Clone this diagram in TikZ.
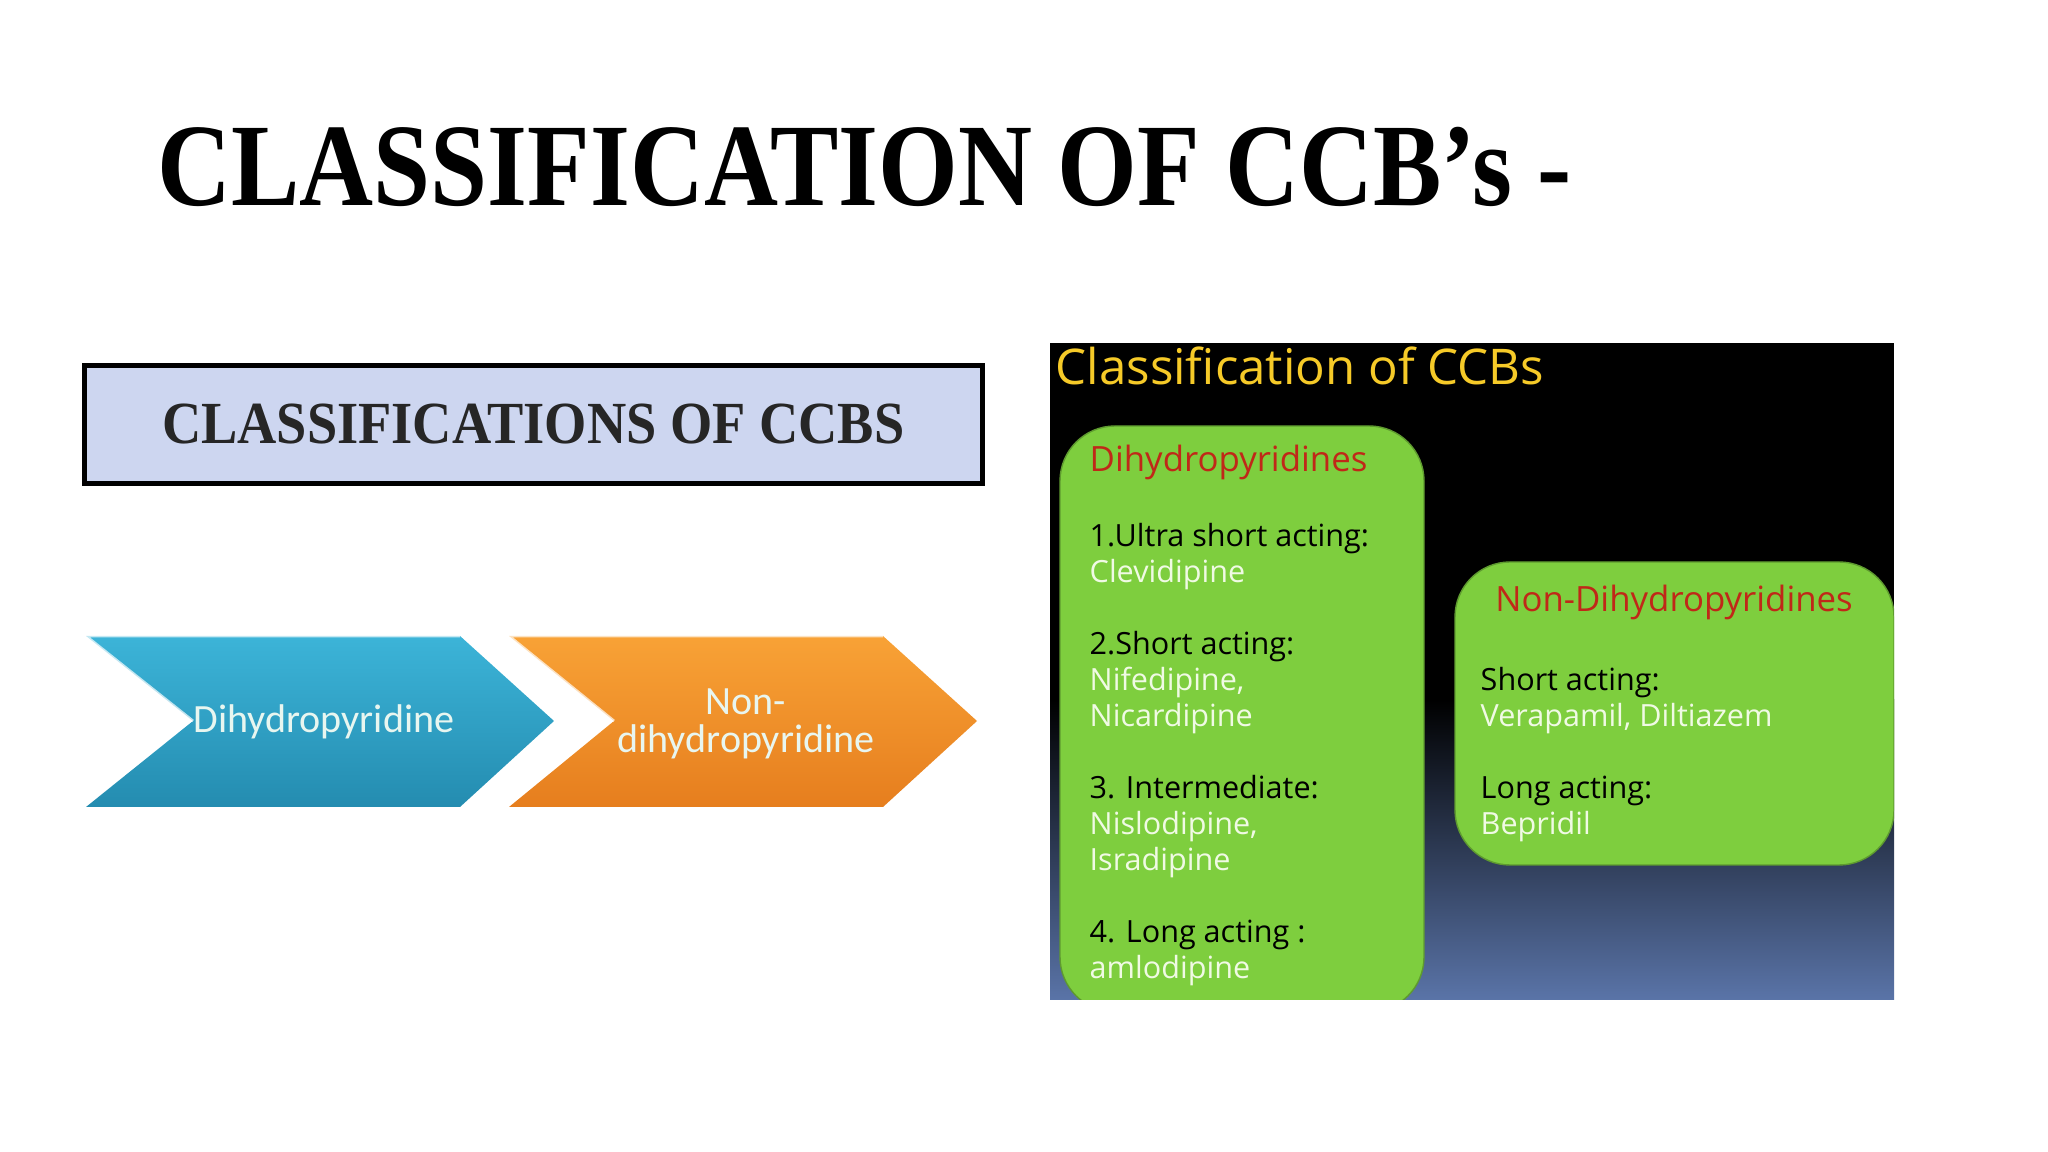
\documentclass[tikz,border=0pt]{standalone}
\usepackage{fontspec}
\setmainfont{Liberation Serif}
\newfontfamily\titlefont[FakeStretch=0.87]{Liberation Serif}
\newfontfamily\bannerfont[FakeStretch=0.91]{Liberation Serif}
\newfontfamily\calibfont{Carlito}
\newfontfamily\comicfont{Open Sans}
\usetikzlibrary{positioning}
\definecolor{lavbox}{RGB}{205,214,240}
\definecolor{chevblueA}{RGB}{60,180,216}
\definecolor{chevblueB}{RGB}{36,140,176}
\definecolor{chevorangeA}{RGB}{248,162,54}
\definecolor{chevorangeB}{RGB}{230,126,30}
\definecolor{chevtext}{RGB}{232,246,240}
\definecolor{leafgreen}{RGB}{126,206,62}
\definecolor{headred}{RGB}{192,40,24}
\definecolor{drugwhite}{RGB}{240,250,228}
\definecolor{titleyellow}{RGB}{246,202,40}
\definecolor{panelblue}{RGB}{90,116,168}

\begin{document}
\begin{tikzpicture}[x=0.1mm, y=-0.1mm, inner sep=0pt,
  greenbox/.style={fill=leafgreen, draw=leafgreen!75!black, line width=0.4pt, rounded corners=5.5mm},
  chevlabel/.style={font=\calibfont\fontsize{11.4}{11}\selectfont, text=chevtext, align=center},
  grouphead/.style={font=\comicfont\fontsize{9.9}{12}\selectfont, text=headred, anchor=west},
  druglist/.style={font=\comicfont\fontsize{8.7}{10.24}\selectfont, align=left, anchor=north west}]
\useasboundingbox (0,0) rectangle (2048,1152);
% slide title
\node[anchor=west, font=\titlefont\bfseries\fontsize{33.5}{36}\selectfont] (title) at (157,167) {CLASSIFICATION OF CCB’s -};
% left banner
\node[draw=black, line width=1.3pt, fill=lavbox, minimum width=89.8mm, minimum height=11.8mm, anchor=north west,
  font=\bannerfont\bfseries\fontsize{17}{20}\selectfont, text=black!85] (banner) at (82,363) {CLASSIFICATIONS OF CCBS};
% chevrons
\shade[top color=chevblueA, bottom color=chevblueB] (86,636) -- (460,636) -- (554,721) -- (460,807) -- (86,807) -- (193,721) -- cycle;
\shade[top color=chevorangeA, bottom color=chevorangeB] (509,636) -- (883,636) -- (977,721) -- (883,807) -- (509,807) -- (614,721) -- cycle;
\draw[white, opacity=.7, line width=0.8pt] (193,721) -- (86,636) -- (460,636);
\draw[white, opacity=.7, line width=0.8pt] (614,721) -- (509,636) -- (883,636);
\node[chevlabel] (dhp) at (324,722) {Dihydropyridine};
\node[chevlabel] (ndhp) at (746,724) {Non-\\dihydropyridine};
% right panel
\fill[black] (1050,343) rectangle (1894,1000);
\shade[top color=black, bottom color=panelblue] (1050,700) rectangle (1894,1000);
\node[anchor=west, font=\comicfont\fontsize{14}{16}\selectfont, text=titleyellow] (ptitle) at (1055,366) {Classification of CCBs};
\begin{scope}
\clip (1050,343) rectangle (1894,1000);
\path[greenbox] (1060,426) rectangle (1424,1012);
\path[greenbox] (1455,562) rectangle (1894,865);
\end{scope}
\node[grouphead] (dhphead) at (1089,462) {Dihydropyridines};
\node[druglist] (dhplist) at (1089,523) {1.Ultra short acting:\\ \textcolor{drugwhite}{Clevidipine}\\[10.24pt]
  2.Short acting:\\ \textcolor{drugwhite}{Nifedipine,}\\ \textcolor{drugwhite}{Nicardipine}\\[10.24pt]
  3. Intermediate:\\ \textcolor{drugwhite}{Nislodipine,}\\ \textcolor{drugwhite}{Isradipine}\\[10.24pt]
  4. Long acting :\\ \textcolor{drugwhite}{amlodipine}};
\node[grouphead, anchor=center] (ndhphead) at (1674,602) {Non-Dihydropyridines};
\node[druglist] (ndhplist) at (1480,667) {Short acting:\\ \textcolor{drugwhite}{Verapamil, Diltiazem}\\[10.24pt]
  Long acting:\\ \textcolor{drugwhite}{Bepridil}};
\end{tikzpicture}
\end{document}
